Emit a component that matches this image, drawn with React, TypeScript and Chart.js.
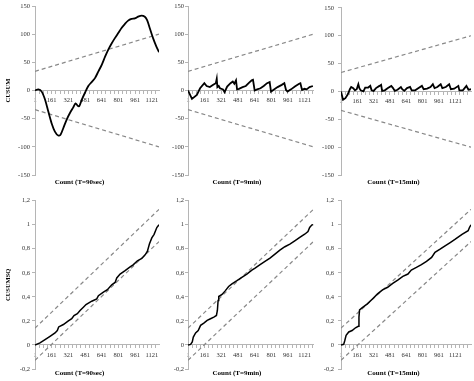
import React, { useEffect, useRef } from 'react';
import { Chart, registerables } from 'chart.js';
Chart.register(...registerables);

// ---------- Data ----------
const cusum90X = [1, 33, 65, 97, 128, 160, 192, 224, 247, 272, 304, 336, 368, 390, 410, 425, 448, 480, 512, 544, 576, 609, 642, 673, 705, 737, 767, 799, 831, 862, 894, 926, 958, 990, 1022, 1054, 1076, 1101, 1133, 1165, 1190];
const cusum90Y = [0, 2, -2, -16, -37, -58, -73, -80, -78, -67, -52, -40, -30, -23, -27, -28, -17, -4, 8, 15, 22, 34, 46, 60, 73, 84, 93, 102, 111, 118, 124, 127, 128, 131, 133, 131, 125, 111, 93, 78, 68];

const cusum9X = [1, 39, 86, 117, 158, 180, 211, 243, 268, 277, 283, 296, 308, 337, 352, 377, 409, 431, 446, 462, 472, 490, 525, 556, 588, 613, 625, 641, 665, 697, 728, 760, 785, 798, 820, 861, 901, 926, 942, 957, 990, 1027, 1068, 1080, 1096, 1120, 1140, 1168, 1200];
const cusum9Y = [0, -15, -8, 4, 13, 8, 6, 10, 13, 21, 6, 8, 4, 2, -3, 7, 13, 16, 12, 18, 2, 3, 6, 8, 14, 18, 19, 0, 2, 4, 8, 13, 15, -2, 1, 6, 10, 13, 1, -2, 2, 7, 12, 13, 1, 3, 2, 6, 8];

const cusum15X = [1, 21, 44, 68, 88, 101, 121, 138, 155, 171, 181, 194, 221, 238, 268, 288, 301, 321, 344, 378, 394, 404, 430, 461, 494, 511, 528, 555, 588, 601, 621, 648, 678, 694, 728, 761, 794, 811, 845, 878, 901, 918, 945, 978, 994, 1028, 1061, 1078, 1111, 1151, 1161, 1195, 1230, 1250, 1275];
const cusum15Y = [0, -15, -12, -5, 4, 8, 6, 2, 4, 13, 6, 2, 0, 7, 7, 10, 2, 1, 6, 10, 12, 1, 2, 6, 10, 6, 1, 3, 8, 4, 1, 6, 8, 2, 2, 6, 10, 4, 5, 8, 13, 6, 8, 13, 6, 8, 13, 4, 5, 10, 2, 2, 10, 3, 4];

const cusumsq90X = [1, 49, 97, 145, 193, 215, 228, 273, 321, 353, 375, 407, 433, 465, 490, 545, 593, 609, 657, 695, 737, 769, 785, 817, 865, 913, 945, 983, 1025, 1057, 1079, 1098, 1121, 1143, 1169, 1190];
const cusumsq90Y = [0, 0.017, 0.044, 0.072, 0.1, 0.12, 0.15, 0.17, 0.2, 0.218, 0.245, 0.26, 0.287, 0.314, 0.336, 0.364, 0.383, 0.41, 0.44, 0.46, 0.5, 0.52, 0.557, 0.59, 0.618, 0.65, 0.668, 0.7, 0.72, 0.75, 0.78, 0.84, 0.89, 0.92, 0.977, 1.0];

const cusumsq9X = [1, 26, 42, 52, 74, 99, 122, 153, 185, 217, 249, 274, 283, 290, 296, 328, 360, 391, 423, 471, 518, 566, 614, 645, 693, 740, 788, 836, 883, 931, 979, 1026, 1074, 1121, 1153, 1169, 1191, 1205];
const cusumsq9Y = [0, 0.005, 0.025, 0.066, 0.1, 0.12, 0.163, 0.182, 0.204, 0.218, 0.232, 0.245, 0.287, 0.37, 0.403, 0.42, 0.452, 0.486, 0.508, 0.535, 0.563, 0.59, 0.623, 0.64, 0.668, 0.695, 0.723, 0.756, 0.789, 0.817, 0.839, 0.866, 0.894, 0.921, 0.943, 0.977, 0.999, 1.0];

const cusumsq15X = [1, 27, 37, 51, 77, 110, 143, 170, 177, 183, 210, 259, 309, 359, 408, 458, 508, 557, 607, 657, 690, 740, 789, 839, 889, 922, 972, 1021, 1071, 1121, 1187, 1247, 1260, 1275];
const cusumsq15Y = [0, 0.005, 0.033, 0.08, 0.108, 0.12, 0.143, 0.155, 0.232, 0.292, 0.31, 0.342, 0.383, 0.425, 0.458, 0.48, 0.513, 0.54, 0.57, 0.59, 0.623, 0.645, 0.668, 0.695, 0.728, 0.77, 0.797, 0.825, 0.852, 0.88, 0.92, 0.95, 0.977, 1.0];

// bounds: [value at start, value at end]
const cusumUpper = [34, 100];
const cusumLower = [-34, -100];
const cusumsqUpper = [0.14, 1.128];
const cusumsqLower = [-0.127, 0.86];

const xMaxes = [1190, 1205, 1275];
const xTickLabels = [1, 161, 321, 481, 641, 801, 961, 1121];
const xMinorStep = 40;
const cusumTicks = [-150, -100, -50, 0, 50, 100, 150];
const cusumsqTicks = [-0.2, 0, 0.2, 0.4, 0.6, 0.8, 1, 1.2];
const xTitles = ['Count (T=90sec)', 'Count (T=9min)', 'Count (T=15min)'];

// ---------- Layout ----------
const SERIF = "'Liberation Serif', 'Times New Roman', serif";
const cols = [
  { left: 0, width: 160, yw: 35, padR: 1, lblPad: 2 },
  { left: 160, width: 156, yw: 28, padR: 2, lblPad: 1 },
  { left: 316, width: 158, yw: 25, padR: 3, lblPad: 4 },
];

function pts(xs: number[], ys: number[]) {
  return xs.map((x, i) => ({ x, y: ys[i] }));
}

type PanelCfg = {
  col: number;
  row: number;
  xs: number[];
  ys: number[];
  upper: number[];
  lower: number[];
};

function Panel({ cfg }: { cfg: PanelCfg }) {
  const ref = useRef<HTMLCanvasElement>(null);
  const c = cols[cfg.col];
  const top = cfg.row === 0 ? 0 : 190;
  const height = cfg.row === 0 ? 190 : 191;
  useEffect(() => {
    const xMax = xMaxes[cfg.col];
    const isTop = cfg.row === 0;
    const yTicks = isTop ? cusumTicks : cusumsqTicks;
    const minorTicks: number[] = [];
    for (let v = 1; v <= xMax; v += xMinorStep) minorTicks.push(v);
    const chart = new Chart(ref.current as HTMLCanvasElement, {
      type: 'line',
      data: {
        datasets: [
          {
            data: pts(cfg.xs, cfg.ys),
            borderColor: '#000',
            borderWidth: isTop ? 1.8 : 1.5,
            pointRadius: 0,
            tension: isTop && cfg.col === 0 ? 0.3 : 0,
          },
          {
            data: pts([1, xMax], cfg.upper),
            borderColor: '#888',
            borderWidth: 1.2,
            borderDash: [4, 3],
            pointRadius: 0,
          },
          {
            data: pts([1, xMax], cfg.lower),
            borderColor: '#888',
            borderWidth: 1.2,
            borderDash: [4, 3],
            pointRadius: 0,
          },
        ],
      },
      options: {
        responsive: false,
        animation: false,
        devicePixelRatio: 1,
        layout: { padding: { top: isTop ? 6 : 10.7, right: c.padR, left: 0, bottom: 0 } },
        plugins: {
          legend: { display: false },
          tooltip: { enabled: false },
          title: {
            display: true,
            text: xTitles[cfg.col],
            position: 'bottom',
            color: '#000',
            font: { family: SERIF, size: 7, weight: 'bold' },
            padding: isTop ? { top: 2.5, bottom: 4.1 } : { top: 0, bottom: 3.6 },
          },
        },
        scales: {
          x: {
            type: 'linear',
            min: 1,
            max: xMax,
            position: { y: 0 } as any,
            afterBuildTicks: (s: any) => {
              s.ticks = minorTicks.map((v) => ({ value: v }));
            },
            grid: { drawOnChartArea: false, color: '#b5b5b5', tickLength: 3 },
            border: { color: '#b5b5b5' },
            ticks: {
              autoSkip: false,
              maxRotation: 0,
              padding: 3,
              color: '#333',
              font: { family: SERIF, size: 6.5 },
              callback: (v: any) => (xTickLabels.includes(Number(v)) ? String(v) : ''),
            },
          },
          y: {
            type: 'linear',
            min: yTicks[0],
            max: yTicks[yTicks.length - 1],
            afterBuildTicks: (s: any) => {
              s.ticks = yTicks.map((v) => ({ value: v }));
            },
            afterFit: (s: any) => {
              s.width = c.yw;
            },
            grid: { drawOnChartArea: false, color: '#b5b5b5', tickLength: 3 },
            border: { color: '#b5b5b5' },
            ticks: {
              padding: c.lblPad,
              color: '#333',
              font: { family: SERIF, size: 6.5 },
              callback: (v: any) => {
                const n = Math.round(Number(v) * 10) / 10;
                return isTop ? String(n) : String(n).replace('.', ',');
              },
            },
            title: {
              display: cfg.col === 0,
              text: isTop ? 'CUSUM' : 'CUSUMSQ',
              color: '#000',
              font: { family: SERIF, size: 6.5, weight: 'bold' },
              padding: { top: 4.4, bottom: 0 },
            },
          },
        },
      },
    } as any);
    return () => chart.destroy();
  }, []);
  return (
    <canvas
      ref={ref}
      width={c.width}
      height={height}
      style={{ position: 'absolute', left: c.left, top, width: c.width, height }}
    />
  );
}

const panels: PanelCfg[] = [
  { col: 0, row: 0, xs: cusum90X, ys: cusum90Y, upper: cusumUpper, lower: cusumLower },
  { col: 1, row: 0, xs: cusum9X, ys: cusum9Y, upper: cusumUpper, lower: cusumLower },
  { col: 2, row: 0, xs: cusum15X, ys: cusum15Y, upper: cusumUpper, lower: cusumLower },
  { col: 0, row: 1, xs: cusumsq90X, ys: cusumsq90Y, upper: cusumsqUpper, lower: cusumsqLower },
  { col: 1, row: 1, xs: cusumsq9X, ys: cusumsq9Y, upper: cusumsqUpper, lower: cusumsqLower },
  { col: 2, row: 1, xs: cusumsq15X, ys: cusumsq15Y, upper: cusumsqUpper, lower: cusumsqLower },
];

export default function App() {
  return (
    <div style={{ position: 'absolute', left: 0, top: 0, width: 474, height: 381, background: '#fff' }}>
      {panels.map((p, i) => (
        <Panel key={i} cfg={p} />
      ))}
    </div>
  );
}
